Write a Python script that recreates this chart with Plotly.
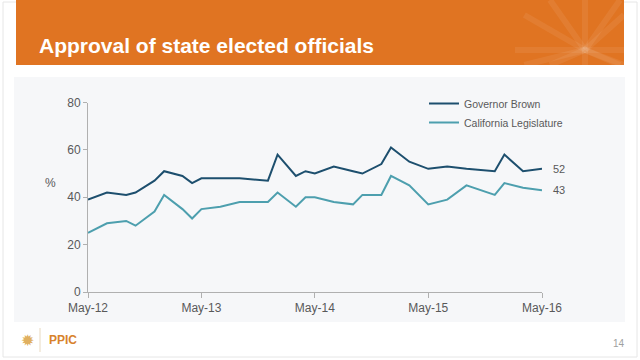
import math
import plotly.graph_objects as go

# Data
dates = ["2012-05-01", "2012-07-01", "2012-09-01", "2012-10-01", "2012-12-01",
         "2013-01-01", "2013-03-01", "2013-04-01", "2013-05-01", "2013-07-01",
         "2013-09-01", "2013-12-01", "2014-01-01", "2014-03-01", "2014-04-01",
         "2014-05-01", "2014-07-01", "2014-09-01", "2014-10-01", "2014-12-01",
         "2015-01-01", "2015-03-01", "2015-05-01", "2015-07-01", "2015-09-01",
         "2015-12-01", "2016-01-01", "2016-03-01", "2016-05-01"]
governor = [39, 42, 41, 42, 47, 51, 49, 46, 48, 48, 48, 47, 58, 49, 51,
            50, 53, 51, 50, 54, 61, 55, 52, 53, 52, 51, 58, 51, 52]
legislature = [25, 29, 30, 28, 34, 41, 35, 31, 35, 36, 38, 38, 42, 36, 40,
               40, 38, 37, 41, 41, 49, 45, 37, 39, 45, 41, 46, 44, 43]
tick_vals = ["2012-05-01", "2013-05-01", "2014-05-01", "2015-05-01", "2016-05-01"]
tick_text = ["May-12", "May-13", "May-14", "May-15", "May-16"]
y_ticks = [0, 20, 40, 60, 80]

W, H = 640, 360
FONT = "Liberation Sans, Arial, sans-serif"
GRAY = "#595959"
GOV_C = "#1d4f6e"
LEG_C = "#4d9fae"
ORANGE = "#e07422"

def px(x):
    return x / W

def py(y):
    return 1 - y / H

fig = go.Figure()
fig.add_trace(go.Scatter(x=dates, y=governor, mode="lines", name="Governor Brown",
                         line=dict(color=GOV_C, width=2)))
fig.add_trace(go.Scatter(x=dates, y=legislature, mode="lines", name="California Legislature",
                         line=dict(color=LEG_C, width=2)))

shapes = [
    dict(type="rect", xref="paper", yref="paper", x0=px(3), x1=px(637), y0=py(357), y1=py(2),
         line=dict(color="#e6e6e6", width=1), fillcolor="white", layer="below"),
    dict(type="rect", xref="paper", yref="paper", x0=px(16), x1=px(624), y0=py(65), y1=py(0),
         line=dict(width=0), fillcolor=ORANGE, layer="below"),
    dict(type="rect", xref="paper", yref="paper", x0=px(14), x1=px(625), y0=py(322), y1=py(77),
         line=dict(width=0), fillcolor="#f6f7f9", layer="below"),
    dict(type="line", xref="paper", yref="paper", x0=px(40), x1=px(40), y0=py(352), y1=py(328),
         line=dict(color="#e8d9c0", width=1), layer="below"),
]
cx, cy = 585, 50
for ang in range(0, 360, 30):
    r = 70
    x1 = cx + r * math.cos(math.radians(ang))
    y1 = cy + r * math.sin(math.radians(ang))
    x1 = min(max(x1, 420), 624)
    y1 = min(max(y1, 0), 65)
    shapes.append(dict(type="line", xref="paper", yref="paper",
                       x0=px(cx), y0=py(cy), x1=px(x1), y1=py(y1),
                       line=dict(color="rgba(255,255,255,0.07)", width=6), layer="below"))

annotations = [
    dict(text="<b>Approval of state elected officials</b>", xref="paper", yref="paper",
         x=px(37), y=py(45), xanchor="left", yanchor="middle", showarrow=False,
         font=dict(family=FONT, size=21, color="white")),
    dict(text="%", xref="paper", yref="paper", x=px(50), y=py(183), showarrow=False,
         xanchor="center", yanchor="middle", font=dict(family=FONT, size=12, color=GRAY)),
    dict(text=str(governor[-1]), xref="paper", yref="y", x=px(551), y=governor[-1],
         xanchor="left", yanchor="middle", showarrow=False,
         font=dict(family=FONT, size=11, color=GRAY)),
    dict(text=str(legislature[-1]), xref="paper", yref="y", x=px(551), y=legislature[-1],
         xanchor="left", yanchor="middle", showarrow=False,
         font=dict(family=FONT, size=11, color=GRAY)),
    dict(text="✹", xref="paper", yref="paper", x=px(27), y=py(340), showarrow=False,
         xanchor="center", yanchor="middle", font=dict(family="DejaVu Sans", size=16, color="#e0b060")),
    dict(text="<b>PPIC</b>", xref="paper", yref="paper", x=px(47), y=py(340), showarrow=False,
         xanchor="left", yanchor="middle", font=dict(family=FONT, size=12, color="#d8822c")),
    dict(text="14", xref="paper", yref="paper", x=px(627), y=py(343), showarrow=False,
         xanchor="right", yanchor="middle", font=dict(family=FONT, size=10, color="#a0a0a0")),
]

fig.update_layout(
    width=W, height=H, autosize=False,
    margin=dict(l=0, r=0, t=0, b=0, pad=0, autoexpand=False),
    paper_bgcolor="white", plot_bgcolor="rgba(0,0,0,0)",
    font=dict(family=FONT, color=GRAY, size=12),
    shapes=shapes, annotations=annotations,
    legend=dict(x=px(424), y=py(89), xanchor="left", yanchor="top",
                bgcolor="rgba(0,0,0,0)", font=dict(family=FONT, size=10.5, color=GRAY),
                tracegroupgap=0, itemwidth=30),
    xaxis=dict(domain=[px(88), px(542)], range=["2012-05-01", "2016-05-01"],
               tickvals=tick_vals, ticktext=tick_text, showgrid=False,
               showline=True, linecolor="#b0b0b0", linewidth=1,
               ticks="outside", ticklen=5, tickcolor="#b0b0b0", automargin=False,
               tickfont=dict(family=FONT, size=12, color=GRAY), zeroline=False),
    yaxis=dict(domain=[py(292), py(102.5)], range=[0, 80], tickvals=y_ticks,
               showgrid=False, showline=True, linecolor="#b0b0b0", linewidth=1,
               ticks="outside", ticklen=4, tickcolor="#b0b0b0", automargin=False,
               tickfont=dict(family=FONT, size=12, color=GRAY), zeroline=False),
)

fig.write_html("out.html", config={"displayModeBar": False},
               post_script="document.body.style.margin='0px';document.body.style.overflow='hidden';")
